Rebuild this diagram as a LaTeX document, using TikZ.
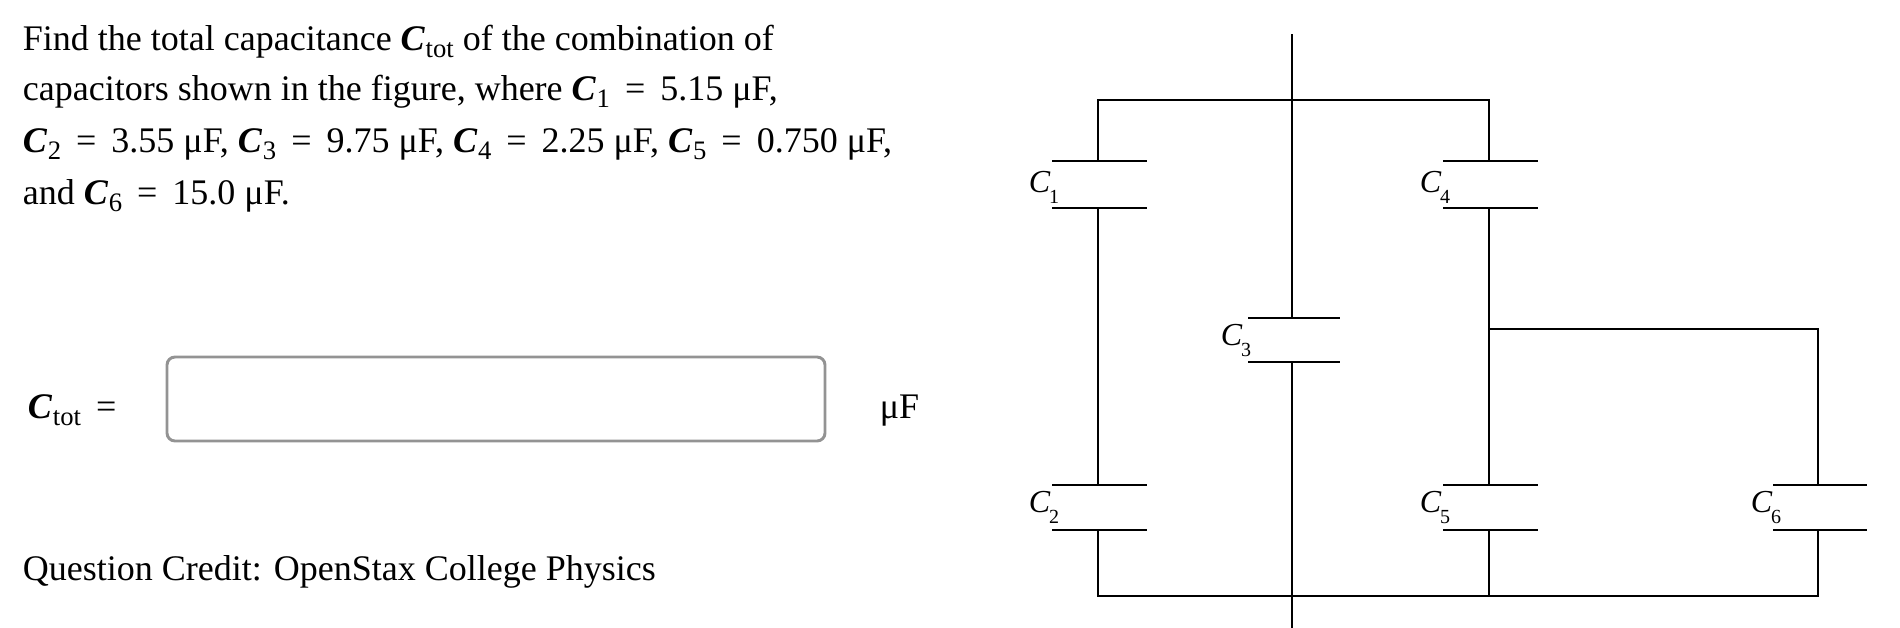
\documentclass[tikz,border=0pt]{standalone}
\usepackage{fontspec}
\setmainfont{Liberation Serif}
\newcommand{\cc}[1]{\textbf{\textit{C}}\kern0.5pt\raisebox{-0.22em}{\fontsize{20}{20}\selectfont #1}}
\newcommand{\lbl}[1]{\textit{C}\kern-1pt\raisebox{-0.35em}{\fontsize{15}{15}\selectfont #1}}
\newcommand{\eqs}{\ \,=\ \,}
\begin{document}
\begin{tikzpicture}[x=0.75pt,y=-0.75pt,line width=1.3pt,
  txt/.style={anchor=base west,inner sep=0,font=\fontsize{27}{30}\selectfont},
  clbl/.style={anchor=base west,inner sep=0,font=\fontsize{24}{24}\selectfont},
  plate/.style={line width=1.4pt}]
\useasboundingbox (0,0) rectangle (1900,628);
\node[txt] (t1) at (22,50) {Find the total capacitance \cc{tot} of the combination of};
\node[txt] (t2) at (22,100) {capacitors shown in the figure, where \cc{1}\eqs 5.15 μF,};
\node[txt] (t3) at (22,152) {\cc{2}\eqs 3.55 μF, \cc{3}\eqs 9.75 μF, \cc{4}\eqs 2.25 μF, \cc{5}\eqs 0.750 μF,};
\node[txt] (t4) at (22,204) {and \cc{6}\eqs 15.0 μF.};
\node[txt] (ct) at (27,418) {\cc{tot}\eqs};
\draw[draw=gray!85,line width=2.2pt,rounded corners=6pt] (167,357) rectangle (825,441);
\node[txt] (uf) at (879,418) {μF};
\node[txt] (qc) at (22,580) {Question Credit: OpenStax College Physics};
% circuit
\coordinate (tp) at (1292,34); \coordinate (bt) at (1292,630);
\draw (tp) -- (1292,318);
\draw (1292,362) -- (bt);
\draw[plate] (1248,318) -- (1340,318); \draw[plate] (1248,362) -- (1340,362);
\draw (1098,161) -- (1098,100) -- (1489,100) -- (1489,161);
\draw[plate] (1052,161) -- (1147,161); \draw[plate] (1052,208) -- (1147,208);
\draw[plate] (1443,161) -- (1538,161); \draw[plate] (1443,208) -- (1538,208);
\draw (1098,208) -- (1098,485);
\draw (1489,208) -- (1489,485);
\draw (1489,329) -- (1818,329) -- (1818,485);
\draw[plate] (1052,485) -- (1147,485); \draw[plate] (1052,530) -- (1147,530);
\draw[plate] (1443,485) -- (1538,485); \draw[plate] (1443,530) -- (1538,530);
\draw[plate] (1773,485) -- (1867,485); \draw[plate] (1773,530) -- (1867,530);
\draw (1098,530) -- (1098,596) -- (1818,596) -- (1818,530);
\draw (1489,530) -- (1489,596);
\node[clbl] (l1) at (1028,192) {\lbl{1}};
\node[clbl] (l2) at (1028,512) {\lbl{2}};
\node[clbl] (l3) at (1220,345) {\lbl{3}};
\node[clbl] (l4) at (1419,192) {\lbl{4}};
\node[clbl] (l5) at (1419,512) {\lbl{5}};
\node[clbl] (l6) at (1750,512) {\lbl{6}};
\end{tikzpicture}
\end{document}
